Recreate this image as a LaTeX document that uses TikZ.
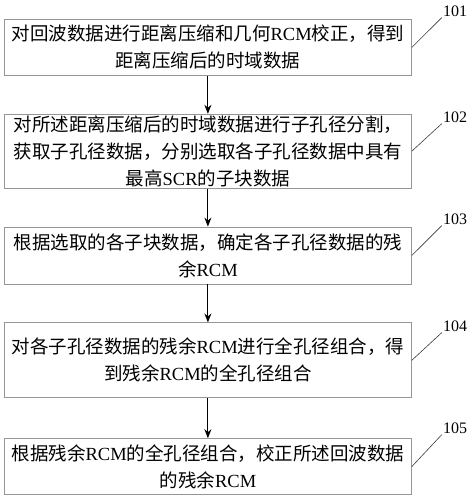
\documentclass[tikz,border=0pt]{standalone}
\usepackage{fontspec}
\setmainfont{Liberation Serif}
\newfontfamily\cjk{Noto Sans CJK SC}
\usepackage{tikz}
\usetikzlibrary{arrows.meta,positioning}
\definecolor{BoxGray}{RGB}{150,150,150}
\definecolor{LeadGray}{RGB}{60,60,60}
\tikzset{
  stepbox/.style={draw=BoxGray, line width=0.8pt, minimum width=407pt,
                  inner sep=0pt, align=center,
                  font=\cjk\fontsize{18.5}{27}\selectfont},
  num/.style={font=\fontsize{16}{16}\selectfont, inner sep=1pt},
  lead/.style={draw=LeadGray, line width=0.6pt},
  arr/.style={-{Stealth[length=9pt,width=7pt]}, line width=1.1pt}
}
\newcommand{\rcm}{\textrm{RCM}}

\begin{document}
\begin{tikzpicture}[x=1pt, y=-1pt, node distance=38pt]
\useasboundingbox (0,0) rectangle (474,495);
\node[stepbox, minimum height=56pt, anchor=north west] (s1) at (4,19)
  {对回波数据进行距离压缩和几何\rcm{}校正，得到\\距离压缩后的时域数据};
\node[stepbox, minimum height=74pt, below=of s1] (s2)
  {对所述距离压缩后的时域数据进行子孔径分割，\\获取子孔径数据，分别选取各子孔径数据中具有\\最高\textrm{SCR}的子块数据};
\node[stepbox, minimum height=57pt, below=of s2] (s3)
  {根据选取的各子块数据，确定各子孔径数据的残\\余\rcm};
\node[stepbox, minimum height=75pt, below=of s3] (s4)
  {对各子孔径数据的残余\rcm{}进行全孔径组合，得\\到残余\rcm{}的全孔径组合};
\node[stepbox, minimum height=56pt, below=40pt of s4] (s5)
  {根据残余\rcm{}的全孔径组合，校正所述回波数据\\的残余\rcm};
\draw[arr] (s1)--(s2);
\draw[arr] (s2)--(s3);
\draw[arr] (s3)--(s4);
\draw[arr] (s4)--(s5);
% step numbers
\node[num] (n1) at (455,11) {101};
\node[num] (n2) at (455,117) {102};
\node[num] (n3) at (455,219) {103};
\node[num] (n4) at (455,326) {104};
\node[num] (n5) at (455,428) {105};
\draw[lead] (s1.east) -- (n1.south west);
\draw[lead] (s2.east) -- (n2.south west);
\draw[lead] (s3.east) -- (n3.south west);
\draw[lead] (s4.east) -- (n4.south west);
\draw[lead] (s5.east) -- (n5.south west);
\end{tikzpicture}
\end{document}
